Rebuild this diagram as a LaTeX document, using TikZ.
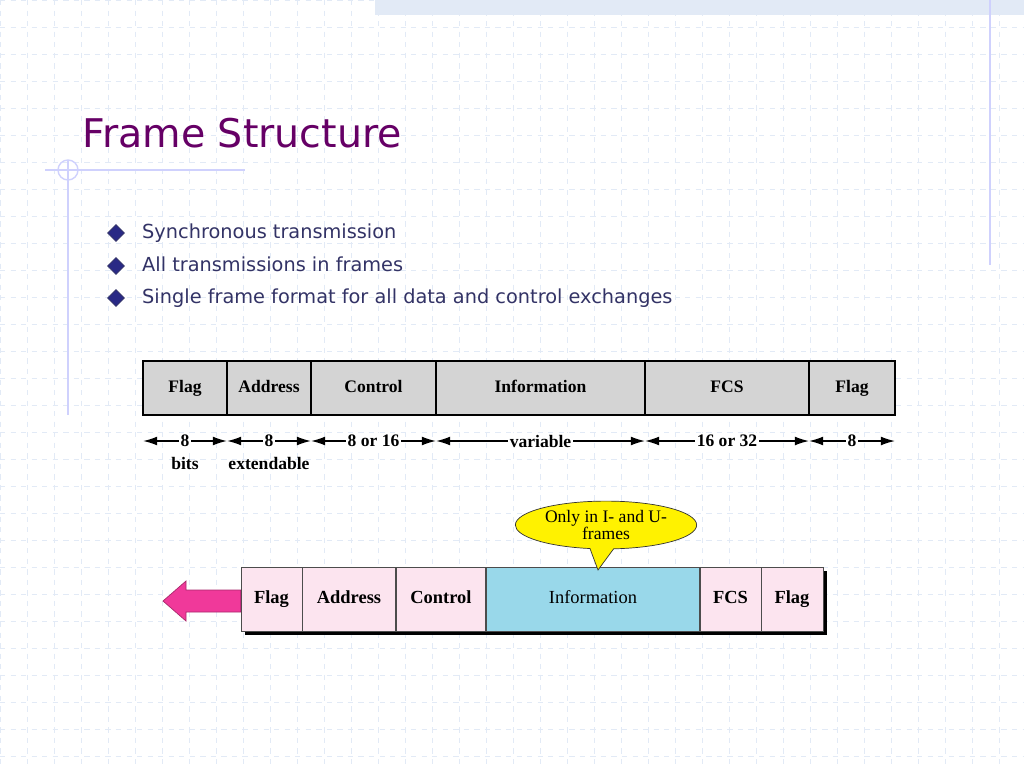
\documentclass[tikz,border=0pt]{standalone}
\usepackage{fontspec}
\setmainfont{Liberation Serif}
\newfontfamily\slidefont{DejaVu Sans}
\usetikzlibrary{positioning,shapes.callouts,shapes.geometric,arrows.meta}
\definecolor{titlepurple}{HTML}{660066}
\definecolor{bulletblue}{HTML}{333366}
\definecolor{gridblue}{HTML}{E2EAF6}
\definecolor{framegray}{HTML}{D4D4D4}
\definecolor{fieldpink}{HTML}{FCE4EF}
\definecolor{infoblue}{HTML}{99D8EA}
\definecolor{arrowpink}{HTML}{F0399A}
\tikzset{
  field/.style={draw=black,very thick,fill=framegray,minimum height=30.6pt,font=\bfseries\fontsize{10}{11}\selectfont,inner sep=0pt,text height=7pt,text depth=2pt},
  pinkfield/.style={draw=black!70,thin,fill=fieldpink,minimum height=36.3pt,font=\bfseries\fontsize{10.5}{11}\selectfont,inner sep=0pt,text height=7.5pt,text depth=2pt},
  bullet/.style={anchor=west,text=bulletblue,font=\slidefont\fontsize{11}{12}\selectfont},
  dim/.style={{Latex[length=8pt,width=5pt]}-{Latex[length=8pt,width=5pt]},thick},
  dimlabel/.style={fill=white,inner sep=1pt,font=\bfseries\fontsize{10}{11}\selectfont}
}
\begin{document}
\begin{tikzpicture}[x=0.02cm,y=-0.02cm]
\useasboundingbox (0,0) rectangle (1024,768);
\fill[white] (0,0) rectangle (1024,768);

% grid in the background
\foreach \gx in {0,27,...,1024} \draw[gridblue,dashed,very thin] (\gx,0) -- (\gx,768);
\foreach \gy in {0,27,...,768} \draw[gridblue,dashed,very thin] (0,\gy) -- (1024,\gy);
\fill[gridblue] (375,0) rectangle (1024,15);
\draw[gridblue!60!blue!40,thick] (990,0) -- (990,265);
\draw[gridblue!60!blue!40,thick] (68,160) -- (68,415);
\draw[gridblue!60!blue!40,thick] (45,170) -- (245,170);
\draw[gridblue!60!blue!40,thick] (68,170) circle (10);

% title and bullets
\node[anchor=west,text=titlepurple,font=\slidefont\fontsize{22.5}{26}\selectfont] (title) at (76,133) {Frame Structure};
\foreach \by/\btext [count=\bk] in {233/Synchronous transmission,266/All transmissions in frames,298/Single frame format for all data and control exchanges}{
  \node[diamond,fill=bulletblue!80!blue,draw=bulletblue,inner sep=2.4pt] (dot\bk) at (116,\by) {};
  \node[bullet,text height=8pt,text depth=2pt] (item\bk) at (136,\by) {\btext};
}

%------------------------
% upper frame
%------------------------
\foreach \xa/\xb/\ftext [count=\fk] in {143/227/Flag,227/311/Address,311/436/Control,436/645/Information,645/809/FCS,809/895/Flag}{
  \node[field,minimum width={(\xb-\xa)*0.567pt}] (f\fk) at ({(\xa+\xb)/2},388) {\ftext};
  \coordinate (l\fk) at (\xa,441);
  \coordinate (r\fk) at (\xb,441);
}
\foreach \dk/\dtext in {1/8,2/8,3/8 or 16,4/variable,5/16 or 32,6/8}{
  \draw[dim] (l\dk) -- (r\dk) node[midway,dimlabel] (d\dk) {\dtext};
}
\node[below=1pt of d1,font=\bfseries\fontsize{10}{11}\selectfont] (bits) {bits};
\node[below=1pt of d2,font=\bfseries\fontsize{10}{11}\selectfont] (ext) {extendable};

%------------------------
% lower frame
%------------------------
\fill[black] (245,571) rectangle (827,635);
\foreach \xa/\xb/\ftext [count=\fk] in {241/302/Flag,302/396/Address,396/486/Control,700/761/FCS,761/823/Flag}{
  \node[pinkfield,minimum width={(\xb-\xa)*0.567pt}] (p\fk) at ({(\xa+\xb)/2},599) {\ftext};
}
\node[pinkfield,fill=infoblue,font=\fontsize{10.5}{11}\selectfont,minimum width={214*0.567pt}] (info) at (593,599) {Information};
\coordinate (tip) at (163,601);
\fill[arrowpink,draw=arrowpink!70!black] (tip) -- (186,581) -- (186,590) -- (p1.west |- 0,590) -- (p1.west |- 0,612) -- (186,612) -- (186,621) -- cycle;
\node[ellipse callout,draw=black!80,fill=yellow,minimum width={182*0.567pt},minimum height={48*0.567pt},inner sep=0pt,align=center,font=\fontsize{10}{10}\selectfont,callout absolute pointer={(598,570)}] (note) at (606,525) {Only in I- and U-\\frames};
\end{tikzpicture}
\end{document}
